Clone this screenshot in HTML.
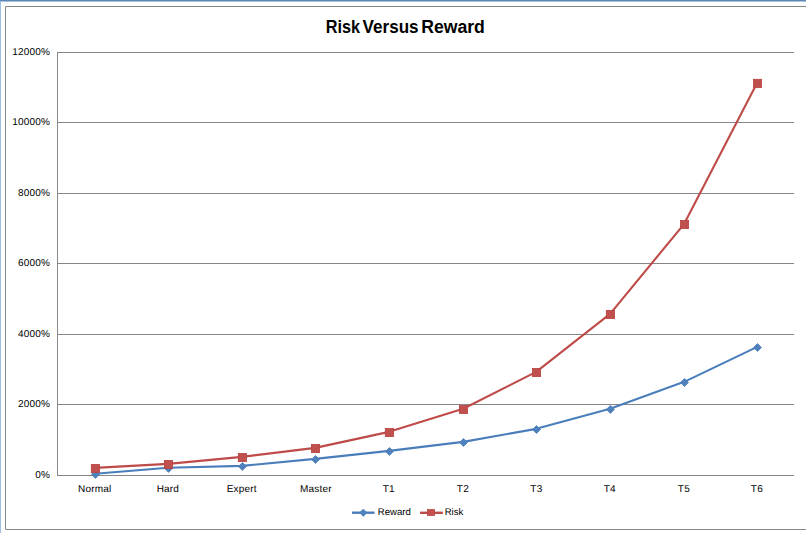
<!DOCTYPE html>
<html><head><meta charset="utf-8"><title>Risk Versus Reward</title>
<style>
html,body{margin:0;padding:0;background:#fff;width:806px;height:533px;overflow:hidden;}
svg{display:block;}
.s{font-family:"Liberation Sans",sans-serif;font-size:10px;letter-spacing:0.2px;fill:#000;text-rendering:geometricPrecision;}
.l{font-family:"Liberation Sans",sans-serif;font-size:9.6px;fill:#000;text-rendering:geometricPrecision;}
.t{font-family:"Liberation Sans",sans-serif;font-size:18px;font-weight:bold;fill:#000;}
</style></head><body>
<svg width="806" height="533" viewBox="0 0 806 533">
<rect x="0" y="0" width="806" height="533" fill="#ffffff"/>
<rect x="0" y="0" width="806" height="1" fill="#6287aa"/>
<rect x="0" y="1" width="806" height="1" fill="#a3c2ea"/>
<rect x="0" y="1" width="1" height="532" fill="#9fbfe8"/>
<rect x="5" y="7" width="1" height="522" fill="#868686"/><rect x="6" y="6" width="800" height="1" fill="#868686"/><rect x="6" y="529" width="800" height="1" fill="#868686"/><rect x="5" y="6" width="1" height="1" fill="#b4b4b4"/><rect x="5" y="529" width="1" height="1" fill="#b4b4b4"/>
<line x1="57" y1="52.5" x2="794" y2="52.5" stroke="#868686" stroke-width="1" shape-rendering="crispEdges"/>
<line x1="57" y1="122.5" x2="794" y2="122.5" stroke="#868686" stroke-width="1" shape-rendering="crispEdges"/>
<line x1="57" y1="193.5" x2="794" y2="193.5" stroke="#868686" stroke-width="1" shape-rendering="crispEdges"/>
<line x1="57" y1="263.5" x2="794" y2="263.5" stroke="#868686" stroke-width="1" shape-rendering="crispEdges"/>
<line x1="57" y1="334.5" x2="794" y2="334.5" stroke="#868686" stroke-width="1" shape-rendering="crispEdges"/>
<line x1="57" y1="404.5" x2="794" y2="404.5" stroke="#868686" stroke-width="1" shape-rendering="crispEdges"/>
<line x1="57" y1="475.5" x2="794" y2="475.5" stroke="#868686" stroke-width="1" shape-rendering="crispEdges"/>
<line x1="57.5" y1="52" x2="57.5" y2="476" stroke="#868686" stroke-width="1" shape-rendering="crispEdges"/>
<text x="50.1" y="55" text-anchor="end" class="s">12000%</text>
<text x="50.1" y="125" text-anchor="end" class="s">10000%</text>
<text x="50.1" y="196" text-anchor="end" class="s">8000%</text>
<text x="50.1" y="266" text-anchor="end" class="s">6000%</text>
<text x="50.1" y="337" text-anchor="end" class="s">4000%</text>
<text x="50.1" y="407" text-anchor="end" class="s">2000%</text>
<text x="50.1" y="478" text-anchor="end" class="s">0%</text>
<text x="94.8" y="492" text-anchor="middle" class="s">Normal</text>
<text x="167.9" y="492" text-anchor="middle" class="s">Hard</text>
<text x="241.8" y="492" text-anchor="middle" class="s">Expert</text>
<text x="315.9" y="492" text-anchor="middle" class="s">Master</text>
<text x="388.8" y="492" text-anchor="middle" class="s">T1</text>
<text x="462.9" y="492" text-anchor="middle" class="s">T2</text>
<text x="536.4" y="492" text-anchor="middle" class="s">T3</text>
<text x="609.8" y="492" text-anchor="middle" class="s">T4</text>
<text x="683.9" y="492" text-anchor="middle" class="s">T5</text>
<text x="756.9" y="492" text-anchor="middle" class="s">T6</text>
<polyline transform="translate(-0.3,-0.65)" points="95.4,474.4 168.5,468.4 242.4,466.5 315.5,459.5 389.4,451.5 463.5,442.5 536.5,429.5 610.4,409.4 684.5,382.5 757.5,347.5" fill="none" stroke="#4A7EBB" stroke-width="2.1" stroke-linejoin="round" stroke-linecap="round"/>
<path d="M95.4 470.4L99.4 474.4L95.4 478.4L91.4 474.4Z" fill="#4F81BD" stroke="#4A7EBB" stroke-width="0.8"/>
<path d="M168.5 464.4L172.5 468.4L168.5 472.4L164.5 468.4Z" fill="#4F81BD" stroke="#4A7EBB" stroke-width="0.8"/>
<path d="M242.4 462.5L246.4 466.5L242.4 470.5L238.4 466.5Z" fill="#4F81BD" stroke="#4A7EBB" stroke-width="0.8"/>
<path d="M315.5 455.5L319.5 459.5L315.5 463.5L311.5 459.5Z" fill="#4F81BD" stroke="#4A7EBB" stroke-width="0.8"/>
<path d="M389.4 447.5L393.4 451.5L389.4 455.5L385.4 451.5Z" fill="#4F81BD" stroke="#4A7EBB" stroke-width="0.8"/>
<path d="M463.5 438.5L467.5 442.5L463.5 446.5L459.5 442.5Z" fill="#4F81BD" stroke="#4A7EBB" stroke-width="0.8"/>
<path d="M536.5 425.5L540.5 429.5L536.5 433.5L532.5 429.5Z" fill="#4F81BD" stroke="#4A7EBB" stroke-width="0.8"/>
<path d="M610.4 405.4L614.4 409.4L610.4 413.4L606.4 409.4Z" fill="#4F81BD" stroke="#4A7EBB" stroke-width="0.8"/>
<path d="M684.5 378.5L688.5 382.5L684.5 386.5L680.5 382.5Z" fill="#4F81BD" stroke="#4A7EBB" stroke-width="0.8"/>
<path d="M757.5 343.5L761.5 347.5L757.5 351.5L753.5 347.5Z" fill="#4F81BD" stroke="#4A7EBB" stroke-width="0.8"/>
<polyline transform="translate(-0.3,-0.65)" points="95.4,468.5 168.5,464.5 242.4,457.5 315.5,448.5 389.4,432.5 463.5,409.4 536.5,372.5 610.4,314.5 684.5,224.5 757.5,83.4" fill="none" stroke="#BE4B48" stroke-width="2.1" stroke-linejoin="round" stroke-linecap="round"/>
<rect x="91.3" y="464.4" width="8.2" height="8.2" fill="#C0504D" stroke="#B8423F" stroke-width="0.8"/>
<rect x="164.4" y="460.4" width="8.2" height="8.2" fill="#C0504D" stroke="#B8423F" stroke-width="0.8"/>
<rect x="238.3" y="453.4" width="8.2" height="8.2" fill="#C0504D" stroke="#B8423F" stroke-width="0.8"/>
<rect x="311.4" y="444.4" width="8.2" height="8.2" fill="#C0504D" stroke="#B8423F" stroke-width="0.8"/>
<rect x="385.3" y="428.4" width="8.2" height="8.2" fill="#C0504D" stroke="#B8423F" stroke-width="0.8"/>
<rect x="459.4" y="405.3" width="8.2" height="8.2" fill="#C0504D" stroke="#B8423F" stroke-width="0.8"/>
<rect x="532.4" y="368.4" width="8.2" height="8.2" fill="#C0504D" stroke="#B8423F" stroke-width="0.8"/>
<rect x="606.3" y="310.4" width="8.2" height="8.2" fill="#C0504D" stroke="#B8423F" stroke-width="0.8"/>
<rect x="680.4" y="220.4" width="8.2" height="8.2" fill="#C0504D" stroke="#B8423F" stroke-width="0.8"/>
<rect x="753.4" y="79.3" width="8.2" height="8.2" fill="#C0504D" stroke="#B8423F" stroke-width="0.8"/>
<text x="325.7" y="32.9" class="t" textLength="34.3" lengthAdjust="spacingAndGlyphs">Risk</text>
<text x="362.6" y="32.9" class="t" textLength="56.0" lengthAdjust="spacingAndGlyphs">Versus</text>
<text x="421.2" y="32.9" class="t" textLength="63.7" lengthAdjust="spacingAndGlyphs">Reward</text>
<line x1="352" y1="512.7" x2="374.6" y2="512.7" stroke="#4A7EBB" stroke-width="2.4"/>
<path d="M363.3 509L367 512.7L363.3 516.4L359.6 512.7Z" fill="#4F81BD" stroke="#4A7EBB" stroke-width="0.6"/>
<text x="377.8" y="515" class="l">Reward</text>
<line x1="420.1" y1="512.8" x2="442.9" y2="512.8" stroke="#BE4B48" stroke-width="2.4"/>
<rect x="427.3" y="509.3" width="7.4" height="6.4" fill="#C0504D" stroke="#B8423F" stroke-width="0.6"/>
<text x="444.7" y="515" class="l">Risk</text>
</svg>
</body></html>
